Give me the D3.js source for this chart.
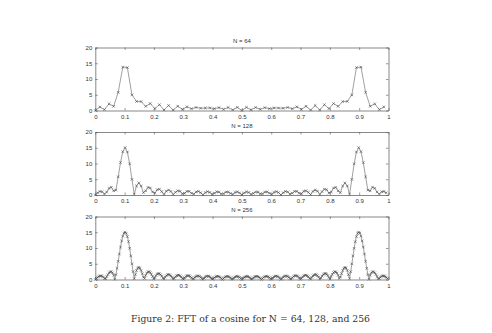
<!DOCTYPE html>
<html><head><meta charset="utf-8">
<script src="https://cdn.jsdelivr.net/npm/d3@7"></script>
<style>body{margin:0;background:#fff}svg{display:block}</style>
</head><body>
<svg id="c" width="492" height="333"></svg>
<script>
// Data: |FFT| magnitudes, bin k at frequency k/N
const titles = ["N = 64", "N = 128", "N = 256"];
const xTicks = [0, 0.1, 0.2, 0.3, 0.4, 0.5, 0.6, 0.7, 0.8, 0.9, 1];
const xTickLabels = ["0", "0.1", "0.2", "0.3", "0.4", "0.5", "0.6", "0.7", "0.8", "0.9", "1"];
const yTicks = [0, 5, 10, 15, 20];
const caption = "Figure 2: FFT of a cosine for N = 64, 128, and 256";

const mag64 = [0,1.13,0.30,2.11,1.33,5.77,13.76,13.64,4.96,2.88,
2.85,1.32,2.21,0.61,1.85,0.17,1.59,0.15,1.37,0.38,
1.17,0.57,0.97,0.72,0.78,0.83,0.59,0.92,0.39,0.97,
0.20,1.00,0,
1.00,0.20,0.97,0.39,0.92,0.59,0.83,0.78,0.72,0.97,0.57,1.17,0.38,1.37,0.15,1.59,0.17,1.85,0.61,2.21,1.32,2.85,2.88,4.96,13.64,13.76,5.77,1.33,2.11,0.30,1.13];

const mag128 = [0,0.69,1.13,1.04,0.30,0.93,2.11,2.47,1.33,1.55,
5.77,10.28,13.76,15.05,13.64,9.91,4.96,0.27,2.88,3.85,
2.85,0.75,1.32,2.42,2.21,0.95,0.61,1.70,1.85,1.07,
0.17,1.22,1.59,1.14,0.15,0.86,1.37,1.17,0.38,0.55,
1.17,1.17,0.57,0.29,0.97,1.14,0.72,0.05,0.78,1.09,
0.83,0.16,0.59,1.02,0.92,0.35,0.39,0.92,0.97,0.52,
0.20,0.81,1.00,0.67,0,
0.67,1.00,0.81,0.20,
0.52,0.97,0.92,0.39,0.35,0.92,1.02,0.59,0.16,0.83,
1.09,0.78,0.05,0.72,1.14,0.97,0.29,0.57,1.17,1.17,
0.55,0.38,1.17,1.37,0.86,0.15,1.14,1.59,1.22,0.17,
1.07,1.85,1.70,0.61,0.95,2.21,2.42,1.32,0.75,2.85,
3.85,2.88,0.27,4.96,9.91,13.64,15.05,13.76,10.28,5.77,
1.55,1.33,2.47,2.11,0.93,0.30,1.04,1.13,0.69];

const mag256 = [0,0.36,0.69,0.96,1.13,1.16,1.04,0.75,0.30,0.28,
0.93,1.57,2.11,2.44,2.47,2.12,1.33,0.10,1.55,3.55,
5.77,8.07,10.28,12.24,13.76,14.73,15.05,14.68,13.64,12.01,
9.91,7.49,4.96,2.49,0.27,1.56,2.88,3.65,3.85,3.56,
2.85,1.87,0.75,0.36,1.32,2.03,2.42,2.48,2.21,1.67,
0.95,0.16,0.61,1.25,1.70,1.90,1.85,1.55,1.07,0.47,
0.17,0.76,1.22,1.51,1.59,1.46,1.14,0.68,0.15,0.39,
0.86,1.20,1.37,1.36,1.17,0.83,0.38,0.10,0.55,0.93,
1.17,1.25,1.17,0.93,0.57,0.15,0.29,0.68,0.97,1.13,
1.14,0.99,0.72,0.35,0.05,0.45,0.78,1.00,1.09,1.03,
0.83,0.53,0.16,0.23,0.59,0.86,1.02,1.03,0.92,0.68,
0.35,0.03,0.39,0.70,0.92,1.01,0.97,0.80,0.52,0.17,
0.20,0.54,0.81,0.97,1.00,0.89,0.67,0.36,0,
0.36,0.67,0.89,1.00,0.97,0.81,0.54,0.20,
0.17,0.52,0.80,0.97,1.01,0.92,0.70,0.39,0.03,0.35,
0.68,0.92,1.03,1.02,0.86,0.59,0.23,0.16,0.53,0.83,
1.03,1.09,1.00,0.78,0.45,0.05,0.35,0.72,0.99,1.14,
1.13,0.97,0.68,0.29,0.15,0.57,0.93,1.17,1.25,1.17,
0.93,0.55,0.10,0.38,0.83,1.17,1.36,1.37,1.20,0.86,
0.39,0.15,0.68,1.14,1.46,1.59,1.51,1.22,0.76,0.17,
0.47,1.07,1.55,1.85,1.90,1.70,1.25,0.61,0.16,0.95,
1.67,2.21,2.48,2.42,2.03,1.32,0.36,0.75,1.87,2.85,
3.56,3.85,3.65,2.88,1.56,0.27,2.49,4.96,7.49,9.91,
12.01,13.64,14.68,15.05,14.73,13.76,12.24,10.28,8.07,5.77,
3.55,1.55,0.10,1.33,2.12,2.47,2.44,2.11,1.57,0.93,
0.28,0.30,0.75,1.04,1.16,1.13,0.96,0.69,0.36];

const series = [mag64, mag128, mag256];

const svg = d3.select("#c");
const left = 95.3, right = 388.5, plotH = 63;
const tops = [47.5, 132, 216.5];
const x = d3.scaleLinear().domain([0, 1]).range([left, right]);
const axisColor = "#555";
const font = "'Liberation Sans', Arial, sans-serif";

series.forEach((vals, i) => {
  const top = tops[i];
  const y = d3.scaleLinear().domain([0, 20]).range([top + plotH, top]);
  const g = svg.append("g");
  const N = vals.length;
  const pts = vals.map((v, k) => [k / N, v]);

  // bottom axis with labels, ticks inward
  const xb = d3.axisBottom(x).tickValues(xTicks).tickFormat((d, j) => xTickLabels[j]).tickSizeInner(-2.5).tickSizeOuter(0).tickPadding(4);
  const gx = g.append("g").attr("transform", `translate(0,${top + plotH})`).call(xb);
  const xt = d3.axisTop(x).tickValues(xTicks).tickFormat("").tickSizeInner(-2.5).tickSizeOuter(0);
  const gxt = g.append("g").attr("transform", `translate(0,${top})`).call(xt);
  const yl = d3.axisLeft(y).tickValues(yTicks).tickSizeInner(-2.5).tickSizeOuter(0).tickPadding(3);
  const gy = g.append("g").attr("transform", `translate(${left},0)`).call(yl);
  const yr = d3.axisRight(y).tickValues(yTicks).tickFormat("").tickSizeInner(-2.5).tickSizeOuter(0);
  const gyr = g.append("g").attr("transform", `translate(${right},0)`).call(yr);
  [gx, gxt, gy, gyr].forEach(a => {
    a.selectAll("path.domain").attr("stroke", axisColor).attr("stroke-width", 0.7);
    a.selectAll(".tick line").attr("stroke", axisColor).attr("stroke-width", 0.6);
    a.selectAll("text").attr("font-family", font).attr("font-size", 6).attr("fill", "#333");
  });

  // line
  const line = d3.line().x(d => x(d[0])).y(d => y(d[1]));
  g.append("path").datum(pts).attr("d", line)
    .attr("fill", "none").attr("stroke", "#888").attr("stroke-width", 0.8);

  // x markers
  const m = 1.3;
  g.append("g").selectAll("path").data(pts).join("path")
    .attr("d", d => {
      const px = x(d[0]), py = y(d[1]);
      return `M${px - m},${py - m}L${px + m},${py + m}M${px - m},${py + m}L${px + m},${py - m}`;
    })
    .attr("stroke", "#444").attr("stroke-width", 0.55).attr("fill", "none");

  // title
  svg.append("text").attr("x", (left + right) / 2).attr("y", top - 4.5)
    .attr("text-anchor", "middle").attr("font-family", font).attr("font-size", 6)
    .attr("fill", "#333").text(titles[i]);
});

svg.append("text").attr("x", 250.5).attr("y", 321.5).attr("text-anchor", "middle")
  .attr("font-family", "'DejaVu Serif', 'Liberation Serif', serif").attr("font-size", 10)
  .attr("textLength", 239).attr("lengthAdjust", "spacingAndGlyphs")
  .attr("fill", "#333").text(caption);
</script>
</body></html>
